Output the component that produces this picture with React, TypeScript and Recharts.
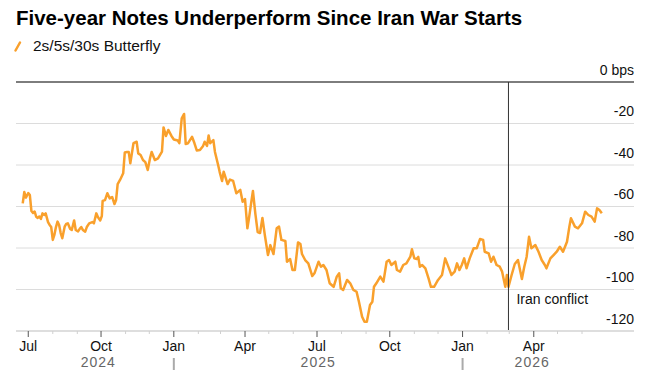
import { LineChart, Line, XAxis, YAxis, CartesianGrid, ReferenceLine } from 'recharts';

// days since 2024-07-01
const days = [
  -7, -5, -3, 0, 2, 4, 6, 8, 10, 12, 14, 16, 18, 20, 22, 25, 27, 29, 31, 33, 35, 37, 39, 41, 43, 46, 48, 50, 53, 55,
  58, 60, 63, 65, 67, 69, 72, 74, 77, 81, 83, 86, 88, 91, 93, 94, 97, 100, 103, 106, 109, 111, 113, 116, 120, 122, 125, 127, 129, 133,
  137, 139, 142, 145, 148, 151, 154, 156, 160, 164, 169, 171, 174, 177, 181, 184, 189, 191, 194, 197, 199, 202, 207, 210, 213, 217, 221, 223, 226, 228,
  230, 234, 236, 240, 242, 245, 247, 252, 255, 259, 263, 268, 271, 274, 277, 279, 282, 284, 287, 290, 293, 296, 299, 303, 306, 310, 314, 317, 320, 325,
  327, 331, 334, 337, 341, 344, 346, 350, 354, 359, 362, 367, 370, 373, 377, 381, 386, 390, 393, 395, 398, 403, 407, 411, 415, 418, 422, 425, 428, 432,
  435, 437, 440, 445, 449, 453, 456, 459, 464, 466, 470, 474, 478, 483, 485, 488, 491, 493, 495, 498, 502, 506, 509, 513, 518, 523, 527, 531, 535, 539,
  542, 545, 548, 551, 554, 558, 563, 567, 571, 575, 577, 582, 585, 588, 592, 596, 599, 603, 605, 607, 611, 615, 619, 624, 627, 630, 633, 636, 641, 645,
  649, 653, 655, 660, 664, 668, 672, 676, 681, 684, 686, 691, 695, 700, 704, 708, 712, 716, 719, 722, 725,
];

// 2s/5s/30s butterfly, bps
const butterfly = [
  -58.5, -53.0, -55.7, -53.5, -54.5, -62.2, -63.1, -62.4, -64.9, -65.5, -64.8, -66.0, -63.3, -64.1, -63.3, -67.5, -68.9, -69.9, -76.1, -73.7, -69.9, -67.3, -68.9, -72.8, -75.3, -69.7, -68.4, -68.1, -70.8, -71.3,
  -66.7, -71.3, -72.0, -70.8, -69.9, -71.3, -72.1, -69.9, -68.1, -67.5, -68.1, -63.3, -65.1, -66.7, -64.6, -57.3, -56.9, -53.6, -56.1, -55.4, -58.8, -56.9, -49.2, -47.2, -44.0, -34.0, -33.7, -33.7, -39.2, -29.5,
  -28.8, -34.4, -35.2, -37.6, -38.6, -42.4, -36.6, -33.7, -37.6, -36.8, -33.6, -21.9, -26.0, -23.1, -26.0, -27.7, -28.2, -29.5, -17.5, -15.4, -29.9, -29.5, -26.4, -29.4, -33.0, -32.8, -30.8, -28.8, -30.8, -25.8,
  -29.5, -28.0, -33.7, -40.0, -43.4, -47.7, -43.2, -49.2, -47.0, -47.7, -53.6, -52.0, -57.7, -56.4, -70.5, -65.7, -57.7, -52.5, -63.3, -72.3, -72.8, -65.5, -73.7, -83.4, -78.6, -82.9, -70.5, -69.7, -76.1, -76.6,
  -86.6, -85.3, -90.6, -90.6, -77.3, -78.1, -82.9, -85.8, -87.4, -93.5, -92.0, -86.6, -89.0, -88.2, -90.6, -97.0, -98.7, -93.8, -92.2, -99.4, -100.2, -95.4, -97.0, -100.2, -101.1, -105.9, -113.1, -115.5, -115.5, -107.5,
  -105.9, -98.7, -97.0, -93.8, -96.2, -86.6, -85.8, -88.2, -86.6, -90.6, -91.4, -88.2, -87.4, -84.2, -80.6, -85.0, -85.3, -84.3, -89.0, -88.2, -89.8, -94.6, -98.7, -98.7, -95.4, -93.0, -85.0, -89.0, -93.0, -91.4,
  -87.4, -90.6, -88.2, -85.0, -89.8, -85.0, -80.1, -80.1, -75.7, -76.1, -81.8, -82.6, -86.6, -84.2, -88.2, -89.0, -91.4, -98.7, -93.0, -98.7, -93.0, -87.7, -85.8, -94.9, -89.0, -84.2, -74.6, -80.1, -78.6, -81.8,
  -85.8, -88.2, -89.8, -85.0, -83.4, -81.8, -79.4, -81.8, -77.0, -69.7, -65.7, -69.7, -70.5, -68.1, -62.5, -64.1, -64.9, -67.3, -60.9, -61.7, -63.3,
];

const yTicks = [-120, -100, -80, -60, -40, -20, 0];

const monthTicks = [
  '2024-07-01', '2024-08-01', '2024-09-01', '2024-10-01', '2024-11-01', '2024-12-01',
  '2025-01-01', '2025-02-01', '2025-03-01', '2025-04-01', '2025-05-01', '2025-06-01',
  '2025-07-01', '2025-08-01', '2025-09-01', '2025-10-01', '2025-11-01', '2025-12-01',
  '2026-01-01', '2026-02-01', '2026-03-01', '2026-04-01', '2026-05-01', '2026-06-01',
];
const majorMonthLabels: Record<number, string> = { 0: 'Jan', 3: 'Apr', 6: 'Jul', 9: 'Oct' };
const years = [2024, 2025, 2026];
const conflictDate = '2026-02-28';

const ORIGIN = Date.UTC(2024, 6, 1);
const dayOf = (iso: string) => Math.round((Date.parse(iso + 'T00:00:00Z') - ORIGIN) / 86400000);

const data = days.map((d, i) => ({ day: d, value: butterfly[i] }));
const monthTickDays = monthTicks.map(dayOf);
const monthByDay: Record<number, number> = {};
monthTicks.forEach((m) => (monthByDay[dayOf(m)] = Number(m.slice(5, 7)) - 1));

// year labels centred on the part of the data in each year, separators at Jan 1
const yearStarts = years.slice(1).map((y) => dayOf(`${y}-01-01`));
const yearCenters = years.map((y) => {
  const lo = Math.max(days[0], dayOf(`${y}-01-01`));
  const hi = Math.min(days[days.length - 1], dayOf(`${y + 1}-01-01`));
  return (lo + hi) / 2;
});
const yearTicks = [...yearStarts, ...yearCenters].sort((a, b) => a - b);

const ORANGE = '#F9A02C';
const FONT = '"Liberation Sans", Arial, sans-serif';

function MonthTick({ x, y, payload }: any) {
  const m = monthByDay[payload.value];
  const label = majorMonthLabels[m];
  const major = label !== undefined;
  return (
    <g>
      <line x1={x} x2={x} y1={y} y2={y + (major ? 6 : 3)} stroke={major ? '#555' : '#d0d0d0'} strokeWidth={1} />
      {major && (
        <text x={x} y={y + 16} textAnchor="middle" dominantBaseline="middle" fontSize={14} fill="#111" fontFamily={FONT}>
          {label}
        </text>
      )}
    </g>
  );
}

function YearTick({ x, y, payload }: any) {
  const idx = yearCenters.indexOf(payload.value);
  if (idx < 0) {
    return <line x1={x} x2={x} y1={y + 3} y2={y + 15} stroke="#aaa" strokeWidth={2} />;
  }
  return (
    <text x={x} y={y + 8} textAnchor="middle" dominantBaseline="middle" fontSize={14} fill="#666" letterSpacing={1} fontFamily={FONT}>
      {years[idx]}
    </text>
  );
}

function ValueTick({ y, payload }: any) {
  return (
    <text x={634} y={y - 11} textAnchor="end" dominantBaseline="middle" fontSize={14} fill="#111" fontFamily={FONT}>
      {payload.value === 0 ? '0 bps' : payload.value}
    </text>
  );
}

export default function App() {
  const xDomain = [-15.5, 765.7];
  return (
    <div style={{ position: 'relative', width: 654, height: 385, background: '#fff', fontFamily: FONT }}>
      <style>{'body{margin:0}'}</style>
      <div style={{ position: 'absolute', left: 16, top: 6, fontSize: 20.5, lineHeight: '24px', fontWeight: 700, color: '#000' }}>
        Five-year Notes Underperform Since Iran War Starts
      </div>
      <svg style={{ position: 'absolute', left: 13, top: 40 }} width={10} height={13}>
        <line x1={2.5} y1={10.5} x2={7} y2={2.5} stroke={ORANGE} strokeWidth={2.5} strokeLinecap="round" />
      </svg>
      <div style={{ position: 'absolute', left: 33, top: 36, fontSize: 15.5, lineHeight: '20px', color: '#111' }}>
        2s/5s/30s Butterfly
      </div>
      <LineChart width={654} height={385} data={data} margin={{ top: 82, right: 10, bottom: 0, left: 16 }}>
        <CartesianGrid vertical={false} stroke="#dcdcdc" />
        <XAxis
          dataKey="day"
          type="number"
          domain={xDomain}
          ticks={monthTickDays}
          interval={0}
          height={24}
          tickSize={0}
          tickMargin={0}
          axisLine={{ stroke: '#dedede', strokeWidth: 2 }}
          tickLine={false}
          tick={<MonthTick />}
        />
        <XAxis
          xAxisId="year"
          dataKey="day"
          type="number"
          domain={xDomain}
          ticks={yearTicks}
          interval={0}
          height={30}
          tickSize={0}
          tickMargin={0}
          axisLine={false}
          tickLine={false}
          tick={<YearTick />}
        />
        <YAxis
          orientation="right"
          domain={[-120, 0]}
          ticks={yTicks}
          interval={0}
          width={10}
          tickSize={0}
          tickMargin={0}
          axisLine={false}
          tickLine={false}
          tick={<ValueTick />}
        />
        <ReferenceLine y={0} stroke="#7d7d7d" strokeWidth={2} />
        <Line
          type="linear"
          dataKey="value"
          stroke={ORANGE}
          strokeWidth={2.5}
          dot={false}
          strokeLinejoin="round"
          isAnimationActive={false}
        />
        <ReferenceLine
          x={dayOf(conflictDate)}
          stroke="#333"
          strokeWidth={1}
          label={(props: any) => (
            <text
              x={props.viewBox.x + 8}
              y={props.viewBox.y + props.viewBox.height - 31}
              dominantBaseline="middle"
              fontSize={14}
              fill="#111"
              fontFamily={FONT}
            >
              Iran conflict
            </text>
          )}
        />
      </LineChart>
    </div>
  );
}
